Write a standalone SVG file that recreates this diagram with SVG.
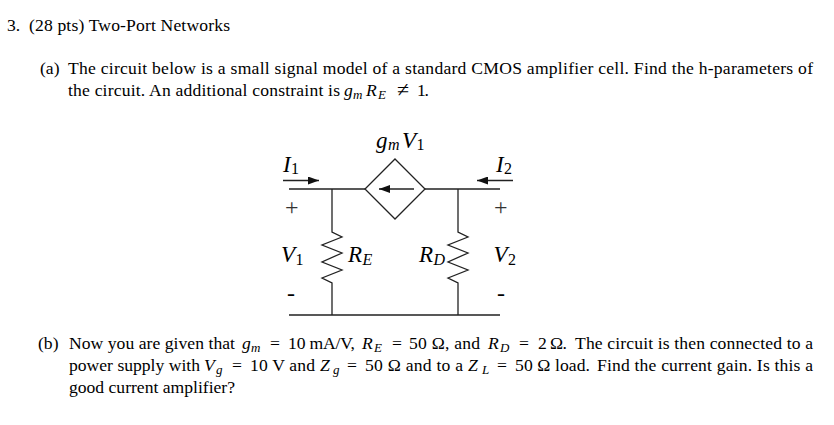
<svg xmlns="http://www.w3.org/2000/svg" width="834" height="425" viewBox="0 0 834 425">
<style>
text{font-family:"Liberation Serif","Times New Roman",serif;font-size:17.6px;fill:#000}
.i{font-style:italic}
.c{font-size:23px}
.s{font-size:13px}
.cs{font-size:16px}
.p{font-size:24px;fill:#333}
.m{font-size:24px}
.w{fill:none;stroke:#222;stroke-width:1.3}
</style>
<defs>
<marker id="a" markerUnits="userSpaceOnUse" markerWidth="12" markerHeight="8" refX="11" refY="4" orient="auto"><path d="M0 0L11 4L0 8Z" fill="#111"/></marker>
</defs>
<rect width="834" height="425" fill="#fff"/>
<g id="text">
<text x="7" y="31">3.</text>
<text x="29" y="31" textLength="201">(28 pts) Two-Port Networks</text>
<text x="40" y="73.500">(a)</text>
<text x="68" y="73.500" textLength="745">The circuit below is a small signal model of a standard CMOS amplifier cell. Find the h-parameters of</text>
<text x="68" y="95.500" textLength="272">the circuit. An additional constraint is</text>
<text class="i" x="344" y="95.500">g</text><text class="i s" x="353" y="98.500">m</text><text class="i" x="366" y="95.500">R</text><text class="i s" x="378" y="98.500">E</text>
<text x="397" y="97" style="font-size:22px">≠</text><text x="417" y="95.500" textLength="12">1.</text>
<text x="38" y="349">(b)</text>
<text x="69" y="349" textLength="166">Now you are given that</text>
<text class="i" x="242" y="349">g</text><text class="i s" x="251" y="352">m</text>
<text x="270" y="349">=</text><text x="288" y="349" textLength="67">10 mA/V,</text>
<text class="i" x="362" y="349">R</text><text class="i s" x="374" y="352">E</text>
<text x="392" y="349">=</text><text x="409" y="349" textLength="71">50 Ω, and</text>
<text class="i" x="488" y="349">R</text><text class="i s" x="500" y="352">D</text>
<text x="519" y="349">=</text><text x="538" y="349" textLength="29">2 Ω.</text>
<text x="575" y="349" textLength="238">The circuit is then connected to a</text>
<text x="69" y="371" textLength="131">power supply with</text>
<text class="i" x="204" y="371">V</text><text class="i s" x="216" y="374">g</text>
<text x="232" y="371">=</text><text x="250" y="371" textLength="65">10 V and</text>
<text class="i" x="320" y="371">Z</text><text class="i s" x="333" y="374">g</text>
<text x="347" y="371">=</text><text x="365" y="371" textLength="98">50 Ω and to a</text>
<text class="i" x="468" y="371">Z</text><text class="i s" x="482" y="374">L</text>
<text x="497" y="371">=</text><text x="515" y="371" textLength="75">50 Ω load.</text>
<text x="597" y="371" textLength="216">Find the current gain. Is this a</text>
<text x="69" y="393" textLength="166">good current amplifier?</text>
</g>
<g id="connectors">
<path class="w" d="M289 189H365M425 189H500M289 315H500"/>
<path class="w" d="M332 189V232L342 237L322 245L342 253L322 262L342 270L322 278L332 283V315"/>
<path class="w" d="M458 189V232L468 237L448 245L468 253L448 262L468 270L448 278L458 283V315"/>
<path class="w" marker-end="url(#a)" d="M283 180.500H319"/>
<path class="w" marker-end="url(#a)" d="M513 180.500H477"/>
</g>
<g id="source">
<path class="w" d="M395 159L425 189L395 219L365 189Z"/>
<path class="w" marker-end="url(#a)" d="M414 189H379"/>
<text class="c i" x="376" y="148">g</text><text class="cs i" x="388" y="150">m</text><text class="c i" x="402" y="148">V</text><text class="cs" x="416.500" y="150">1</text>
</g>
<g id="port1">
<text class="c i" x="283" y="172">I</text><text class="cs" x="291" y="174">1</text>
<text class="p" x="285" y="215">+</text>
<text class="c i" x="281" y="262">V</text><text class="cs" x="295.500" y="265">1</text>
<text class="m" x="287" y="301">-</text>
</g>
<g id="port2">
<text class="c i" x="496" y="172">I</text><text class="cs" x="504" y="174">2</text>
<text class="p" x="494" y="215">+</text>
<text class="c i" x="493.500" y="262">V</text><text class="cs" x="508" y="265">2</text>
<text class="m" x="497" y="301">-</text>
</g>
<g id="re"><text class="c i" x="348" y="262">R</text><text class="cs i" x="362.500" y="265">E</text></g>
<g id="rd"><text class="c i" x="419" y="262">R</text><text class="cs i" x="433.500" y="265">D</text></g>
</svg>
